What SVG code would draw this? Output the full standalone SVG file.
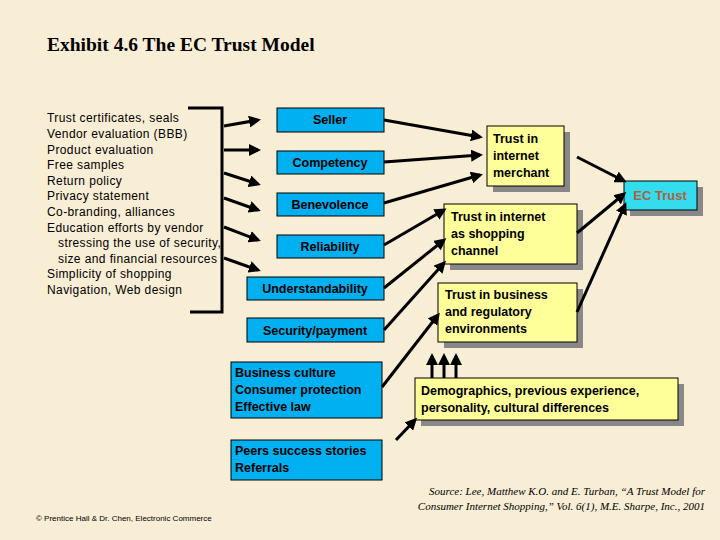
<svg xmlns="http://www.w3.org/2000/svg" width="720" height="540" viewBox="0 0 720 540">
<defs>
<marker id="ah2" markerWidth="12" markerHeight="12" refX="9" refY="6" orient="auto" markerUnits="userSpaceOnUse"><path d="M0,0 L12,6 L0,12 Z" fill="#000"/></marker>
</defs>
<style>
.b{fill:#00b0f0;stroke:#000;stroke-width:1}
.y{fill:#ffff99;stroke:#000;stroke-width:1}
.s{fill:#888}
.t{font-family:"Liberation Sans",Arial,sans-serif;font-size:12.5px;font-weight:bold;fill:#000}
.l{font-family:"Liberation Sans",Arial,sans-serif;font-size:12px;letter-spacing:0.4px;fill:#000}
.c line,.c path{stroke:#000;stroke-width:3;fill:none;marker-end:url(#ah2)}
</style>
<rect width="720" height="540" fill="#f8edd5"/>
<text x="47" y="51" font-family="Liberation Serif,serif" font-size="19.5" font-weight="bold">Exhibit 4.6 The EC Trust Model</text>
<g id="list" class="l">
<text x="47" y="122">Trust certificates, seals</text>
<text x="47" y="138">Vendor evaluation (BBB)</text>
<text x="47" y="154">Product evaluation</text>
<text x="47" y="169">Free samples</text>
<text x="47" y="185">Return policy</text>
<text x="47" y="200">Privacy statement</text>
<text x="47" y="216">Co-branding, alliances</text>
<text x="47" y="232">Education efforts by vendor</text>
<text x="58" y="247">stressing the use of security,</text>
<text x="58" y="263">size and financial resources</text>
<text x="47" y="278">Simplicity of shopping</text>
<text x="47" y="294">Navigation, Web design</text>
</g>
<path d="M188,108 H222 V312 H190" stroke="#000" stroke-width="3" fill="none"/>
<g id="seller"><rect class="b" x="277" y="108" width="107" height="24"/><text class="t" x="330" y="124" text-anchor="middle">Seller</text></g>
<g id="competency"><rect class="b" x="277" y="151" width="107" height="23"/><text class="t" x="330" y="167" text-anchor="middle">Competency</text></g>
<g id="benevolence"><rect class="b" x="277" y="193" width="107" height="23"/><text class="t" x="330" y="209" text-anchor="middle">Benevolence</text></g>
<g id="reliability"><rect class="b" x="277" y="235" width="107" height="23"/><text class="t" x="330" y="251" text-anchor="middle">Reliability</text></g>
<g id="understandability"><rect class="b" x="247" y="277" width="137" height="23"/><text class="t" x="315" y="293" text-anchor="middle">Understandability</text></g>
<g id="security"><rect class="b" x="247" y="318" width="137" height="24"/><text class="t" x="315" y="335" text-anchor="middle">Security/payment</text></g>
<g id="culture"><rect class="b" x="231" y="362" width="151" height="56"/><text class="t" x="235" y="377">Business culture</text><text class="t" x="235" y="394">Consumer protection</text><text class="t" x="235" y="411">Effective law</text></g>
<g id="peers"><rect class="b" x="231" y="440" width="151" height="40"/><text class="t" x="235" y="455">Peers success stories</text><text class="t" x="235" y="472">Referrals</text></g>
<g id="merchant"><rect class="s" x="493" y="132" width="77" height="60"/><rect class="y" x="487" y="126" width="77" height="60"/><text class="t" x="493" y="143">Trust in</text><text class="t" x="493" y="160">internet</text><text class="t" x="493" y="177">merchant</text></g>
<g id="ectrust"><rect class="s" x="630" y="187" width="73" height="29"/><rect x="624" y="181" width="73" height="29" fill="#33ddee" stroke="#000"/><text x="660" y="200" text-anchor="middle" font-family="Liberation Sans,Arial,sans-serif" font-size="13" font-weight="bold" fill="#b06040">EC Trust</text></g>
<g id="shopping"><rect class="s" x="450" y="210" width="133" height="60"/><rect class="y" x="444" y="204" width="133" height="60"/><text class="t" x="451" y="221">Trust in internet</text><text class="t" x="451" y="238">as shopping</text><text class="t" x="451" y="255">channel</text></g>
<g id="business"><rect class="s" x="444" y="289" width="139" height="59"/><rect class="y" x="438" y="283" width="139" height="59"/><text class="t" x="445" y="299">Trust in business</text><text class="t" x="445" y="316">and regulatory</text><text class="t" x="445" y="333">environments</text></g>
<g id="demo"><rect class="s" x="421" y="384" width="263" height="42"/><rect class="y" x="415" y="378" width="263" height="42"/><text class="t" x="421" y="395">Demographics, previous experience,</text><text class="t" x="421" y="412">personality, cultural differences</text></g>
<g id="connectors" class="c">
<line x1="224" y1="126" x2="258" y2="120"/>
<line x1="224" y1="150" x2="258" y2="150"/>
<line x1="224" y1="173" x2="258" y2="184"/>
<line x1="224" y1="198" x2="258" y2="210"/>
<line x1="224" y1="227" x2="258" y2="240"/>
<line x1="224" y1="258" x2="258" y2="270"/>
<line x1="384" y1="120" x2="480" y2="137"/>
<line x1="384" y1="162" x2="480" y2="155"/>
<line x1="384" y1="203" x2="480" y2="175"/>
<line x1="384" y1="245" x2="444" y2="210"/>
<line x1="384" y1="288" x2="444" y2="240"/>
<line x1="384" y1="330" x2="444" y2="263"/>
<line x1="382" y1="387" x2="438" y2="315"/>
<line x1="396" y1="440" x2="415" y2="420"/>
<line x1="577" y1="157" x2="624" y2="181"/>
<line x1="577" y1="233" x2="624" y2="194"/>
<line x1="577" y1="312" x2="625" y2="205"/>
<line x1="432" y1="378" x2="432" y2="356" stroke-width="2"/>
<line x1="444" y1="378" x2="444" y2="356" stroke-width="2"/>
<line x1="456" y1="378" x2="456" y2="356" stroke-width="2"/>
</g>
<text x="705" y="495" text-anchor="end" font-family="Liberation Serif,serif" font-size="11" font-style="italic">Source: Lee, Matthew K.O. and E. Turban, “A Trust Model for</text>
<text x="705" y="510" text-anchor="end" font-family="Liberation Serif,serif" font-size="11" font-style="italic">Consumer Internet Shopping,” Vol. 6(1), M.E. Sharpe, Inc., 2001</text>
<text x="36" y="521" font-family="Liberation Sans,Arial,sans-serif" font-size="8">© Prentice Hall &amp; Dr. Chen, Electronic Commerce</text>
</svg>
